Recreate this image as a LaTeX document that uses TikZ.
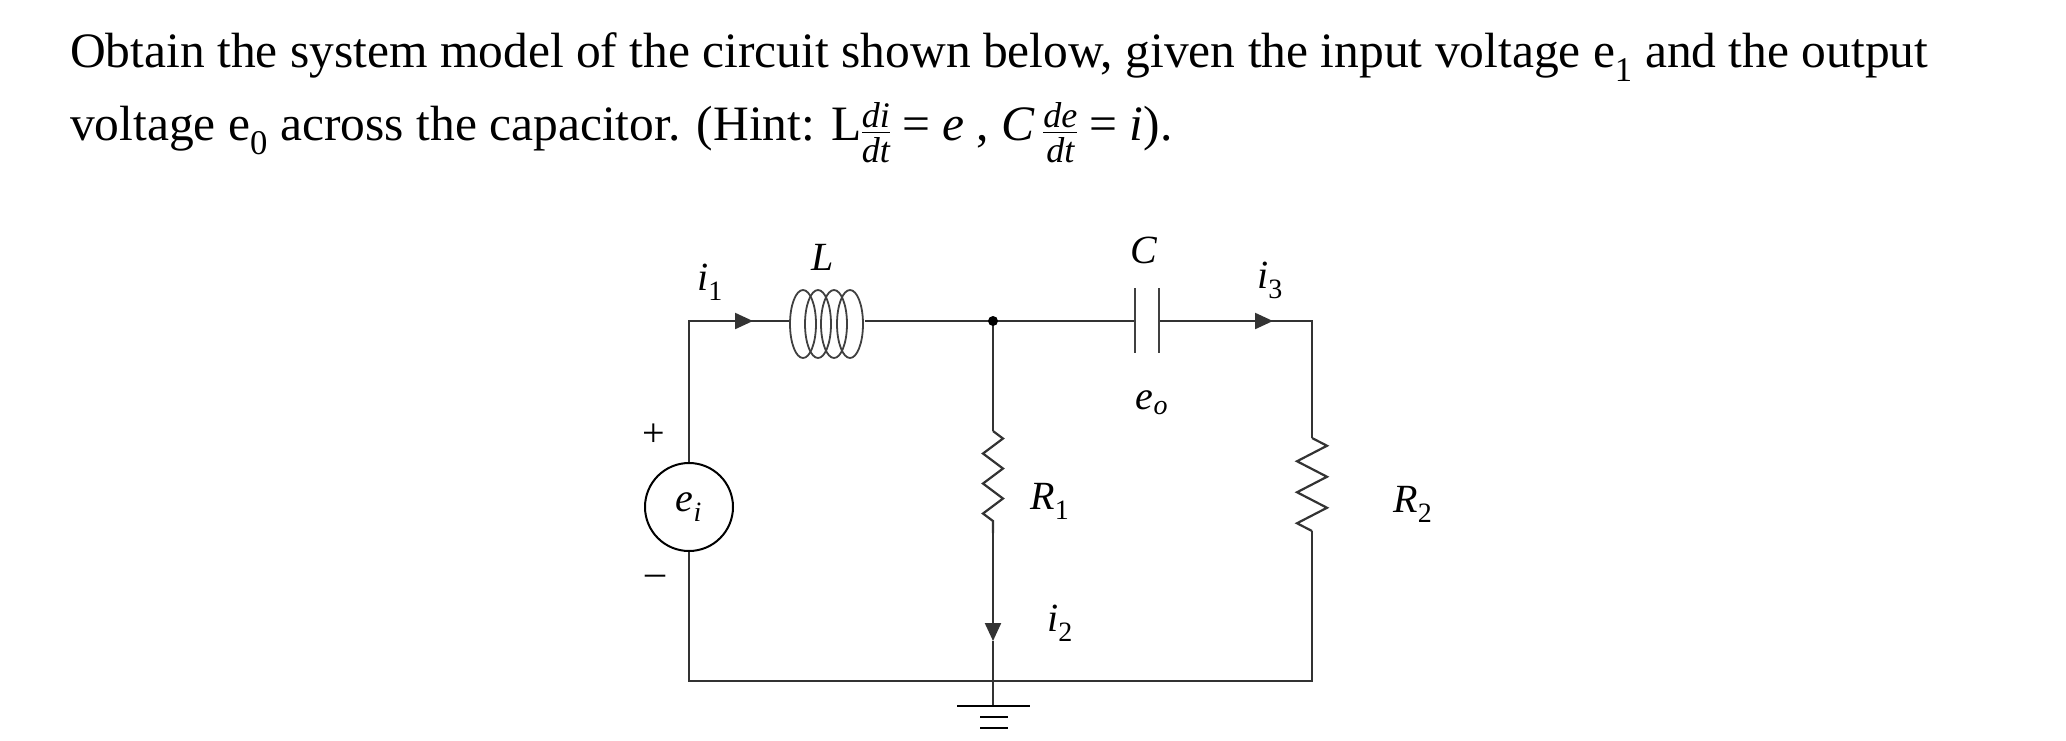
\documentclass[tikz,border=0pt]{standalone}
\usepackage{fontspec}
\setmainfont{Liberation Serif}
\usetikzlibrary{arrows.meta,decorations.pathmorphing}
\newcommand{\myfr}[2]{\raisebox{-0.08em}{\fontsize{36}{36}\selectfont\itshape\begin{tabular}{@{}c@{}}#1\\[-6pt]\hline\rule{0pt}{30pt}#2\end{tabular}}}
\begin{document}
\begin{tikzpicture}[x=1pt,y=-1pt,
  wire/.style={line width=2.2pt,black!80},
  lbl/.style={font=\fontsize{40}{40}\selectfont\itshape,inner sep=0},
  arr/.style={-{Triangle[length=18pt,width=16pt]}},
  res/.style={decorate,decoration={zigzag,segment length=#1,amplitude=14pt}}]
\useasboundingbox (0,0) rectangle (2066,740);
\node[anchor=base west,inner sep=0,font=\fontsize{49.5}{50}\selectfont] (t1) at (70,67) {Obtain the system model of the circuit shown below, given the input voltage e\textsubscript{1} and the output};
\node[anchor=base west,inner sep=0,font=\fontsize{49.5}{50}\selectfont] (t2) at (70,140) {voltage e\textsubscript{0} across the capacitor. (Hint: L\myfr{di}{dt} = \textit{e} , \textit{C}\,\myfr{de}{dt} = \textit{i}).};
% coordinates
\coordinate (tl) at (689,321); \coordinate (bl) at (689,681);
\coordinate (tr) at (1312,321); \coordinate (br) at (1312,681);
\coordinate (j) at (993,321);
\coordinate (la) at (789,321); \coordinate (lb) at (865,321);
\coordinate (ca) at (1135,321); \coordinate (cb) at (1159,321);
\coordinate (a1) at (753,321); \coordinate (a3) at (1273,321);
\coordinate (r2a) at (1312,438); \coordinate (r2b) at (1312,531);
\coordinate (r1a) at (993,431); \coordinate (r1b) at (993,533);
\coordinate (a2) at (993,641); \coordinate (g) at (993,706);
\node[circle,draw,line width=2pt,minimum size=88pt,inner sep=0] (src) at (689,507) {};
\node[lbl] (ei) at (689,507) {e\textsubscript{i}};
% wires
\draw[wire] (src.north) -- (tl) -- (la);
\draw[wire,arr] (tl) -- (a1);
\draw[wire] (lb) -- (ca);
\draw[wire] (cb) -- (tr) -- (r2a);
\draw[wire,arr] (cb) -- (a3);
\draw[wire] (src.south) -- (bl) -- (br) -- (r2b);
\draw[wire,res=31pt,decoration={amplitude=15pt}] (r2a) -- (r2b);
\draw[wire] (j) -- (r1a);
\draw[wire,res=30pt,decoration={amplitude=10pt}] (r1a) -- (r1b);
\draw[wire,arr] (r1b) -- (a2);
\draw[wire] (a2) -- (g);
\fill (j) circle (5pt);
% inductor
\foreach \c in {803,818,834,850}{\draw[line width=1.8pt,black!75] (\c,324) ellipse (13pt and 34pt);}
% capacitor
\draw[line width=2.5pt,black!75] (1135,288) -- (1135,353) (1159,288) -- (1159,353);
% ground
\draw[line width=2.5pt] (957,706) -- (1030,706) (980,717) -- (1008,717) (980,728) -- (1008,728);
% labels
\node[lbl] (Ll) at (823,257) {L};
\node[lbl] (i1) at (710,282) {i\textsubscript{\upshape 1}};
\node[lbl] (Cl) at (1144,250) {C};
\node[lbl] (i3) at (1270,280) {i\textsubscript{\upshape 3}};
\node[lbl] (eo) at (1152,403) {e\textsubscript{o}};
\node[lbl] (R1) at (1050,501) {R\textsubscript{\upshape 1}};
\node[lbl] (i2) at (1060,623) {i\textsubscript{\upshape 2}};
\node[lbl] (R2) at (1413,504) {R\textsubscript{\upshape 2}};
\node[font=\fontsize{40}{40}\selectfont,inner sep=0] (pl) at (654,435) {+};
\node[font=\fontsize{40}{40}\selectfont,inner sep=0] (mi) at (655,580) {–};
\end{tikzpicture}
\end{document}
